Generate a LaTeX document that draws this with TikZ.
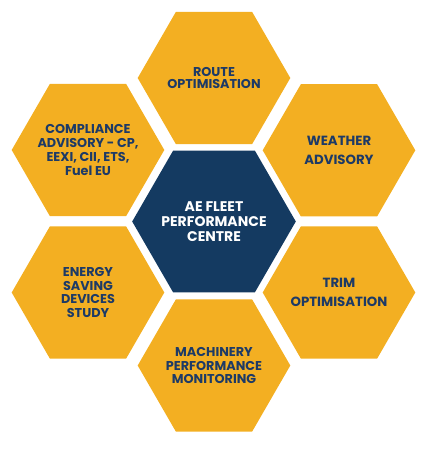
\documentclass[tikz,border=0pt]{standalone}
\usepackage{fontspec}
\setmainfont{Poppins}
\usetikzlibrary{shapes.geometric}

\definecolor{hexgold}{RGB}{243,175,34}
\definecolor{hexnavy}{RGB}{20,58,97}
\definecolor{hexink}{RGB}{29,58,102}

\tikzset{
  cell/.style={regular polygon, regular polygon sides=6, minimum size=152.6pt,
    inner sep=-40pt, outer sep=0pt, fill=hexgold, text=hexink, align=center,
    font=\bfseries\fontsize{12.8}{13.8}\selectfont},
  widecell/.style={cell, font=\bfseries\fontsize{13.3}{13.8}\selectfont},
  hub/.style={cell, minimum size=163.6pt, fill=hexnavy, text=white,
    font=\bfseries\fontsize{14}{15}\selectfont},
}

\begin{document}
\begin{tikzpicture}[x=1pt,y=-1pt]
  \useasboundingbox (0,0) rectangle (432,450);

  % centre cell
  \node[hub] (hub) at (214,221.5) {AE FLEET\\PERFORMANCE\\CENTRE};

  % ring of six service cells
  \node[cell]     (route)  at (214,78)    {ROUTE\\[-1.8pt]OPTIMISATION};
  \node[widecell] (wthr)   at (339,150.3) {WEATHER\\[4.7pt]ADVISORY};
  \node[widecell] (trim)   at (339,292.5) {TRIM\\[5.2pt]OPTIMISATION};
  \node[cell]     (mach)   at (214,365.5) {MACHINERY\\PERFORMANCE\\MONITORING};
  \node[cell]     (esd)    at (88,292.5)  {ENERGY\\SAVING\\DEVICES\\STUDY};
  \node[cell]     (comply) at (88,150)    {COMPLIANCE\\ADVISORY - CP,\\EEXI, CII, ETS,\\Fuel EU};
\end{tikzpicture}
\end{document}
